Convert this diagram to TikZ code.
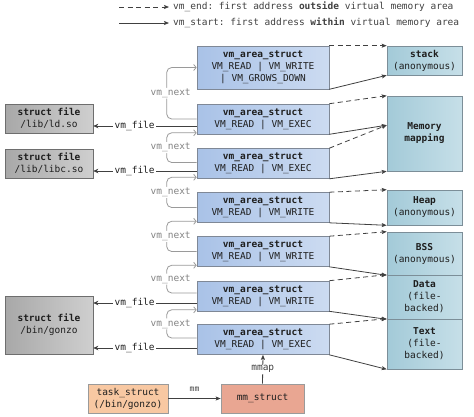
\documentclass[tikz,border=0pt]{standalone}
\usepackage{fontspec}
\setmonofont{DejaVu Sans Mono}
\usetikzlibrary{arrows.meta,calc}
\definecolor{txt}{HTML}{1E1E1E}
\definecolor{vmaL}{HTML}{A9C2E7}
\definecolor{vmaR}{HTML}{CCDBF1}
\definecolor{vmaB}{HTML}{7F8896}
\definecolor{segL}{HTML}{A3CAD8}
\definecolor{segR}{HTML}{C6DFE8}
\definecolor{segB}{HTML}{7C8E98}
\definecolor{fL}{HTML}{A8A8A8}
\definecolor{fR}{HTML}{CFCFCF}
\definecolor{fB}{HTML}{6E6E6E}
\definecolor{taskC}{HTML}{F8C8A2}
\definecolor{mmC}{HTML}{E9A692}
\definecolor{boxB}{HTML}{9A9A9A}
\definecolor{lineC}{HTML}{404040}
\definecolor{nextC}{HTML}{9A9A9A}
\begin{document}
\begin{tikzpicture}[x=1pt,y=-1pt,
  every node/.style={font=\fontsize{9.5}{12}\selectfont\ttfamily, text=txt, inner sep=0pt},
  vma/.style={draw=vmaB, line width=0.6pt, left color=vmaL, right color=vmaR, minimum width=132pt, minimum height=30pt, align=center},
  seg/.style={draw=segB, line width=0.6pt, left color=segL, right color=segR, minimum width=75pt, align=center},
  fbox/.style={draw=fB, line width=0.6pt, left color=fL, right color=fR, minimum width=88pt, align=center},
  tbox/.style={draw=boxB, line width=0.6pt, fill=taskC, minimum width=80pt, minimum height=29pt, align=center},
  mbox/.style={draw=boxB, line width=0.6pt, fill=mmC, minimum width=83pt, minimum height=29pt, align=center},
  startA/.style={draw=lineC, line width=0.8pt, -{Stealth[length=5pt,width=4pt,inset=1pt]}},
  endA/.style={startA, dash pattern=on 5pt off 3.5pt},
  nextA/.style={draw=nextC, line width=0.8pt, rounded corners=5pt, -{Straight Barb[length=2.5pt,width=6pt]}},
  fileA/.style={draw=lineC, line width=0.8pt, -{Stealth[length=5pt,width=4.5pt,inset=1.5pt]}},
  nextL/.style={text=nextC!85!black, fill=white, inner sep=1pt, xshift=4pt},
  fileL/.style={text=txt, fill=white, inner sep=1.5pt},
]
\useasboundingbox (0,0) rectangle (474,416);

% legend
\coordinate (l1) at (119,7);
\coordinate (l2) at (119,23);
\node[anchor=west, text=lineC] (leg1) at (173,7) {vm\_end: first address \textbf{outside} virtual memory area};
\node[anchor=west, text=lineC] (leg2) at (173,23) {vm\_start: first address \textbf{within} virtual memory area};
\draw[endA] (l1) -- ([xshift=-4pt]leg1.west);
\draw[startA] (l2) -- ([xshift=-4pt]leg2.west);

% vm_area_struct boxes
\node[vma, minimum height=43pt] (v1) at (263,67.5) {\textbf{vm\_area\_struct}\\VM\_READ | VM\_WRITE\\| VM\_GROWS\_DOWN};
\node[vma] (v2) at (263,119) {\textbf{vm\_area\_struct}\\VM\_READ | VM\_EXEC};
\node[vma] (v3) at (263,163.5) {\textbf{vm\_area\_struct}\\VM\_READ | VM\_EXEC};
\node[vma] (v4) at (263,207.5) {\textbf{vm\_area\_struct}\\VM\_READ | VM\_WRITE};
\node[vma] (v5) at (263,251.5) {\textbf{vm\_area\_struct}\\VM\_READ | VM\_WRITE};
\node[vma] (v6) at (263,296) {\textbf{vm\_area\_struct}\\VM\_READ | VM\_WRITE};
\node[vma] (v7) at (263,339.5) {\textbf{vm\_area\_struct}\\VM\_READ | VM\_EXEC};

% segments
\node[seg, minimum height=29pt] (sStack) at (424.5,60.5) {\textbf{stack}\\(anonymous)};
\node[seg, minimum height=75pt] (sMmap) at (424.5,133.5) {\textbf{Memory}\\\textbf{mapping}};
\node[seg, minimum height=35pt] (sHeap) at (424.5,207.5) {\textbf{Heap}\\(anonymous)};
\node[seg, minimum height=43pt] (sBss) at (424.5,253.5) {\textbf{BSS}\\(anonymous)};
\node[seg, minimum height=44pt] (sData) at (424.5,297) {\textbf{Data}\\(file-\\backed)};
\node[seg, minimum height=50pt] (sText) at (424.5,344) {\textbf{Text}\\(file-\\backed)};

% files
\node[fbox, minimum height=29pt] (fLd) at (49,118.5) {\textbf{struct file}\\/lib/ld.so};
\node[fbox, minimum height=29pt] (fLibc) at (49,163.5) {\textbf{struct file}\\/lib/libc.so};
\node[fbox, minimum height=58pt] (fGonzo) at (49,325) {\textbf{struct file}\\/bin/gonzo};

% task / mm
\node[tbox] (task) at (128,398.5) {task\_struct\\(/bin/gonzo)};
\node[mbox] (mm) at (262.5,398.5) {mm\_struct};

% vm_start / vm_end arrows
\coordinate (mmIn) at ($(sMmap.north west)!0.39!(sMmap.south west)$);
\draw[endA] (v1.north east) -- (sStack.north west);
\draw[startA] (v1.south east) -- (sStack.south west);
\draw[endA] (v2.north east) -- (sMmap.north west);
\draw[startA] (v2.south east) -- (mmIn);
\draw[endA] (v3.north east) -- (mmIn);
\draw[startA] (v3.south east) -- (sMmap.south west);
\draw[endA] (v4.north east) -- (sHeap.north west);
\draw[startA] (v4.south east) -- (sHeap.south west);
\draw[endA] (v5.north east) -- (sBss.north west);
\draw[startA] (v5.south east) -- (sBss.south west);
\draw[endA] (v6.north east) -- (sData.north west);
\draw[startA] (v6.south east) -- (sData.south west);
\draw[endA] (v7.north east) -- (sText.north west);
\draw[startA] (v7.south east) -- (sText.south west);

% vm_next chain
\draw[nextA] (v2.west) -- ++(-30,0) -- node[nextL]{vm\_next} ([xshift=-30pt]v1.west) -- (v1.west);
\draw[nextA] ([yshift=1pt]v3.west) -- ++(-30,0) -- node[nextL]{vm\_next} ([xshift=-30pt,yshift=1.5pt]v2.south west) -- ([yshift=1.5pt]v2.south west);
\draw[nextA] (v4.west) -- ++(-30,0) -- node[nextL]{vm\_next} ([xshift=-30pt,yshift=1.5pt]v3.south west) -- ([yshift=1.5pt]v3.south west);
\draw[nextA] (v5.west) -- ++(-30,0) -- node[nextL]{vm\_next} ([xshift=-30pt,yshift=1.5pt]v4.south west) -- ([yshift=1.5pt]v4.south west);
\draw[nextA] ([yshift=3pt]v6.west) -- ++(-30,0) -- node[nextL]{vm\_next} ([xshift=-30pt,yshift=1.5pt]v5.south west) -- ([yshift=1.5pt]v5.south west);
\draw[nextA] ([yshift=1.5pt]v7.west) -- ++(-30,0) -- node[nextL]{vm\_next} ([xshift=-30pt,yshift=1.5pt]v6.south west) -- ([yshift=1.5pt]v6.south west);

% vm_file
\coordinate (f2) at ([yshift=-7pt]v2.west);
\coordinate (f3) at ([yshift=-7.5pt]v3.west);
\coordinate (f6) at ([yshift=-7pt]v6.west);
\coordinate (f7) at ([yshift=-8.5pt]v7.west);
\draw[fileA] (f2) -- node[fileL, pos=0.6]{vm\_file} (f2 -| fLd.east);
\draw[fileA] (f3) -- node[fileL, pos=0.6]{vm\_file} (f3 -| fLibc.east);
\draw[fileA] (f6) -- node[fileL, pos=0.6]{vm\_file} (f6 -| fGonzo.east);
\draw[fileA] (f7) -- node[fileL, pos=0.6]{vm\_file} (f7 -| fGonzo.east);

% mm / mmap
\draw[startA] (task.east) -- node[above=7pt, text=lineC, font=\fontsize{8}{10}\selectfont\ttfamily]{mm} (mm.west);
\draw[startA] (mm.north) -- node[fill=white, inner sep=1pt, text=lineC]{mmap} (v7.south);
\end{tikzpicture}
\end{document}
